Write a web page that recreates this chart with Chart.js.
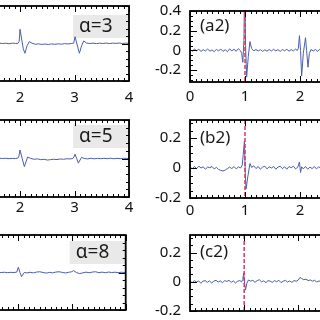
<!DOCTYPE html>
<html>
<head>
<meta charset="utf-8">
<script src="https://cdn.jsdelivr.net/npm/chart.js@4"></script>
<style>
  html, body { margin: 0; padding: 0; background: #fff; }
  #wrap { position: relative; width: 320px; height: 320px; overflow: hidden; background: #fff; }
  .panel { position: absolute; }
</style>
</head>
<body>
<div id="wrap"></div>
<script>
// x tick labels (all panels) and y tick labels (right panels)
const xTickVals = [0, 1, 2, 3, 4];
const yTicksA2 = [-0.2, 0, 0.2, 0.4];
const yTicksB2 = [-0.2, 0, 0.2];
const yTicksC2 = [-0.2, 0, 0.2];
const yTicksLeft = [-1, 0, 1];

// left column: alpha = 3
const xL3 = [1.5, 1.56, 1.62, 1.68, 1.74, 1.8, 1.86, 1.92, 1.96, 1.985,
  2.0, 2.03, 2.06, 2.09, 2.13, 2.17, 2.22, 2.28, 2.34, 2.4,
  2.46, 2.52, 2.58, 2.64, 2.7, 2.76, 2.82, 2.88, 2.94, 2.985,
  3.01, 3.05, 3.09, 3.13, 3.17, 3.22, 3.28, 3.34, 3.4, 3.46,
  3.52, 3.58, 3.64, 3.7, 3.76, 3.82, 3.88, 3.94, 4.0];
const yL3 = [0.01, -0.004, 0.012, 0.0, 0.008, -0.006, 0.01, 0.002, 0.0, 0.06,
  0.38, 0.12, -0.14, -0.26, -0.06, 0.05, 0.01, -0.02, -0.01, -0.024,
  -0.014, -0.026, -0.01, -0.022, -0.008, -0.018, -0.004, -0.012, 0.0, 0.01,
  0.18, -0.04, -0.26, -0.06, 0.07, 0.012, 0.0, 0.01, -0.004, 0.008,
  0.0, 0.012, -0.002, 0.01, 0.004, 0.012, 0.0, 0.01, 0.006];

// left column: alpha = 5
const xL5 = [1.5, 1.56, 1.62, 1.68, 1.74, 1.8, 1.86, 1.92, 1.96, 1.98,
  2.0, 2.04, 2.08, 2.14, 2.2, 2.26, 2.32, 2.38, 2.44, 2.5,
  2.56, 2.62, 2.68, 2.74, 2.8, 2.86, 2.92, 2.97, 2.99, 3.01,
  3.04, 3.07, 3.13, 3.18, 3.24, 3.3, 3.36, 3.42, 3.48, 3.54,
  3.6, 3.66, 3.72, 3.78, 3.84, 3.9, 3.96, 4.0];
const yL5 = [0.006, -0.004, 0.008, 0.0, 0.006, -0.004, 0.004, 0.0, 0.01, 0.06,
  0.22, 0.0, -0.21, 0.04, 0.0, -0.02, -0.01, -0.03, -0.02, -0.04,
  -0.03, -0.02, -0.028, -0.012, -0.02, -0.006, -0.012, 0.0, 0.04, 0.11,
  0.0, -0.12, 0.03, 0.0, -0.01, 0.006, -0.008, 0.004, -0.006, 0.006,
  -0.004, 0.008, -0.006, 0.004, -0.004, 0.006, 0.0, 0.004];

// left column: alpha = 8
const xL8 = [1.5, 1.56, 1.62, 1.68, 1.74, 1.8, 1.86, 1.92, 1.97, 2.0,
  2.03, 2.06, 2.11, 2.16, 2.22, 2.28, 2.34, 2.4, 2.46, 2.52,
  2.58, 2.64, 2.7, 2.76, 2.82, 2.88, 2.94, 2.99, 3.03, 3.08,
  3.14, 3.2, 3.26, 3.32, 3.38, 3.44, 3.5, 3.56, 3.62, 3.68,
  3.74, 3.8, 3.86, 3.92, 4.0];
const yL8 = [0.004, -0.004, 0.006, 0.0, 0.006, -0.004, 0.004, 0.0, 0.01, 0.14,
  0.0, -0.11, 0.0, -0.012, 0.006, -0.01, 0.012, 0.02, 0.0, -0.016,
  0.004, -0.01, 0.012, 0.02, 0.002, -0.012, 0.006, 0.02, 0.05, 0.0,
  -0.03, -0.01, 0.01, -0.006, 0.012, 0.02, -0.004, 0.01, -0.006, 0.012,
  0.0, 0.008, -0.004, 0.006, 0.0];

// right column: (a2)
const xA2 = [0, 0.04, 0.08, 0.12, 0.16, 0.2, 0.24, 0.28, 0.32, 0.36,
  0.4, 0.44, 0.48, 0.52, 0.56, 0.6, 0.64, 0.68, 0.72, 0.76,
  0.8, 0.84, 0.88, 0.92, 0.94, 0.96, 0.98, 0.995, 1.01, 1.03,
  1.06, 1.09, 1.12, 1.16, 1.2, 1.24, 1.28, 1.32, 1.36, 1.4,
  1.44, 1.48, 1.52, 1.56, 1.6, 1.64, 1.68, 1.72, 1.76, 1.8,
  1.84, 1.88, 1.92, 1.95, 1.97, 1.99, 2.01, 2.03, 2.06, 2.1,
  2.12, 2.145, 2.17, 2.2, 2.24, 2.28, 2.32, 2.36, 2.4, 2.44];
const yA2 = [0.01, -0.008, 0.014, -0.004, 0.012, -0.01, 0.008, -0.006, 0.015, -0.008,
  0.006, -0.012, 0.01, -0.004, 0.014, -0.01, 0.008, -0.012, 0.016, -0.004,
  0.012, -0.008, 0.018, -0.004, -0.03, -0.12, 0.1, 0.7, 0.05, -0.27,
  -0.06, 0.09, 0.02, -0.004, 0.01, -0.006, 0.008, -0.01, 0.006, -0.008,
  0.01, -0.006, 0.012, -0.004, 0.008, -0.01, 0.01, -0.004, 0.012, -0.008,
  0.008, -0.004, 0.014, 0.0, 0.02, 0.15, 0.0, -0.26, -0.03, 0.13,
  0.0, -0.17, -0.03, 0.01, -0.006, 0.01, -0.008, 0.012, -0.006, 0.008];

// right column: (b2)
const xB2 = [0, 0.04, 0.08, 0.12, 0.16, 0.2, 0.24, 0.28, 0.32, 0.36,
  0.4, 0.44, 0.48, 0.52, 0.56, 0.6, 0.64, 0.68, 0.72, 0.76,
  0.8, 0.84, 0.88, 0.92, 0.95, 0.97, 0.99, 1.005, 1.02, 1.05,
  1.09, 1.12, 1.16, 1.2, 1.24, 1.28, 1.32, 1.36, 1.4, 1.44,
  1.48, 1.52, 1.56, 1.6, 1.64, 1.68, 1.72, 1.76, 1.8, 1.84,
  1.88, 1.92, 1.96, 1.99, 2.01, 2.03, 2.06, 2.1, 2.14, 2.18,
  2.22, 2.26, 2.3, 2.34, 2.38, 2.42, 2.46];
const yB2 = [0.008, -0.006, 0.01, -0.004, 0.012, 0.0, 0.008, -0.008, 0.006, 0.002,
  0.01, -0.006, 0.004, -0.01, -0.016, -0.02, -0.014, -0.004, 0.006, -0.004,
  0.01, -0.006, 0.008, 0.0, 0.02, 0.1, 0.18, -0.04, -0.14, -0.06,
  0.03, 0.004, 0.014, -0.004, 0.01, -0.008, 0.006, 0.012, -0.006, 0.008,
  0.0, 0.01, -0.008, 0.006, 0.012, -0.004, 0.008, -0.008, 0.01, 0.002,
  0.012, -0.006, 0.006, 0.04, -0.03, 0.008, -0.006, 0.01, -0.008, 0.006,
  -0.004, 0.01, -0.006, 0.008, -0.002, 0.01, -0.006];

// right column: (c2)
const xC2 = [0, 0.04, 0.08, 0.12, 0.16, 0.2, 0.24, 0.28, 0.32, 0.36,
  0.4, 0.44, 0.48, 0.52, 0.56, 0.6, 0.64, 0.68, 0.72, 0.76,
  0.8, 0.84, 0.88, 0.92, 0.95, 0.975, 0.99, 1.01, 1.025, 1.05,
  1.08, 1.12, 1.16, 1.2, 1.24, 1.28, 1.32, 1.36, 1.4, 1.44,
  1.48, 1.52, 1.56, 1.6, 1.64, 1.68, 1.72, 1.76, 1.8, 1.84,
  1.88, 1.92, 1.96, 2.0, 2.03, 2.06, 2.1, 2.14, 2.18, 2.22,
  2.26, 2.3, 2.34, 2.38, 2.42, 2.46];
const yC2 = [0.004, -0.006, 0.008, -0.002, 0.006, -0.01, 0.004, 0.008, -0.004, 0.006,
  -0.008, 0.004, 0.01, -0.002, 0.006, -0.006, 0.008, 0.002, 0.01, -0.004,
  0.006, -0.008, 0.004, 0.008, 0.0, 0.015, 0.06, -0.02, -0.055, -0.01,
  0.012, 0.004, 0.01, -0.004, 0.008, 0.014, 0.0, 0.006, -0.006, 0.008,
  0.004, -0.004, 0.008, 0.0, 0.01, -0.006, 0.004, 0.01, -0.002, 0.006,
  -0.004, 0.008, 0.004, 0.012, 0.03, 0.022, 0.014, 0.018, 0.008, 0.012,
  0.004, 0.01, -0.002, 0.006, 0.0, 0.008];

const markerX = 1;

const FONT = "'Noto Sans', 'DejaVu Sans', sans-serif";
const TRACE = '#4b5eaa';

const panels = [
  { left: -129, top: -19, w: 273, h: 130, padTop: 25, xs: xL3, ys: yL3, yMin: -1, yMax: 1,
    yTicks: yTicksLeft, yMinor: 0.2, yMajor: 1, yLabels: false, tag: 'α=3', box: true, boxTop: 9, xPad: 8 },
  { left: -129, top: 95, w: 273, h: 132, padTop: 25, xs: xL5, ys: yL5, yMin: -1, yMax: 1,
    yTicks: yTicksLeft, yMinor: 0.2, yMajor: 1, yLabels: false, tag: 'α=5', box: true, boxTop: 5, xPad: 2 },
  { left: -129, top: 210, w: 273, h: 130, padTop: 25, xs: xL8, ys: yL8, yMin: -1, yMax: 1,
    yTicks: yTicksLeft, yMinor: 0.2, yMajor: 1, yLabels: false, tag: 'α=8', box: true, boxTop: 6, xPad: 14 },
  { left: 150, top: -14, w: 275, h: 126, padTop: 25, xs: xA2, ys: yA2, yMin: -0.32, yMax: 0.4,
    yTicks: yTicksA2, yMinor: 0.05, yMajor: 0.2, yLabels: true, tag: '(a2)', tagY: 0.25, marker: true, xPad: 6 },
  { left: 150, top: 95, w: 275, h: 133, padTop: 25, xs: xB2, ys: yB2, yMin: -0.2, yMax: 0.32,
    yTicks: yTicksB2, yMinor: 0.05, yMajor: 0.2, yLabels: true, tag: '(b2)', tagY: 0.2, marker: true, xPad: 4 },
  { left: 150, top: 210, w: 275, h: 131, padTop: 25, xs: xC2, ys: yC2, yMin: -0.2, yMax: 0.32,
    yTicks: yTicksC2, yMinor: 0.05, yMajor: 0.2, yLabels: true, tag: '(c2)', tagY: 0.2, marker: true, xPad: 14 }
];

function framePlugin(cfg) {
  return {
    id: 'frame',
    beforeDatasetsDraw(chart) {
      const { ctx, chartArea: a } = chart;
      if (!cfg.box) return;
      ctx.save();
      ctx.fillStyle = '#e9e9e9';
      ctx.fillRect(a.right - 56, a.top + cfg.boxTop, 56, 23);
      ctx.fillStyle = '#1a1a1a';
      ctx.font = '19px ' + FONT;
      ctx.textBaseline = 'middle';
      ctx.textAlign = 'left';
      ctx.fillText(cfg.tag, a.right - 50, a.top + cfg.boxTop + 12);
      ctx.restore();
    },
    afterDatasetsDraw(chart) {
      const { ctx, chartArea: a, scales: { x, y } } = chart;
      ctx.save();
      if (cfg.marker) {
        const px = x.getPixelForValue(markerX);
        ctx.strokeStyle = '#d2386a';
        ctx.lineWidth = 1.5;
        ctx.setLineDash([4, 2]);
        ctx.beginPath();
        ctx.moveTo(px, a.top);
        ctx.lineTo(px, a.bottom);
        ctx.stroke();
        ctx.setLineDash([]);
      }
      // inward ticks on every side
      ctx.strokeStyle = '#000';
      ctx.lineWidth = 1;
      ctx.beginPath();
      for (let i = 0; i <= 40; i++) {
        const px = Math.round(x.getPixelForValue(i / 10)) + 0.5;
        const len = i % 10 === 0 ? 6 : 3;
        ctx.moveTo(px, a.bottom); ctx.lineTo(px, a.bottom - len);
        ctx.moveTo(px, a.top); ctx.lineTo(px, a.top + len);
      }
      const k0 = Math.ceil(cfg.yMin / cfg.yMinor - 1e-6);
      const k1 = Math.floor(cfg.yMax / cfg.yMinor + 1e-6);
      for (let k = k0; k <= k1; k++) {
        const v = k * cfg.yMinor;
        const r = v / cfg.yMajor;
        const major = Math.abs(r - Math.round(r)) < 1e-6;
        const py = Math.round(y.getPixelForValue(v)) + 0.5;
        const len = major ? 7 : 3;
        ctx.moveTo(a.left, py); ctx.lineTo(a.left + len, py);
        ctx.moveTo(a.right, py); ctx.lineTo(a.right - len, py);
      }
      ctx.stroke();
      ctx.lineWidth = 1.8;
      ctx.strokeRect(a.left, a.top, a.right - a.left, a.bottom - a.top);
      if (!cfg.box) {
        ctx.fillStyle = '#1a1a1a';
        ctx.font = '17px ' + FONT;
        ctx.textBaseline = 'middle';
        ctx.textAlign = 'left';
        ctx.fillText(cfg.tag, a.left + 10, y.getPixelForValue(cfg.tagY));
      }
      ctx.restore();
    }
  };
}

const wrap = document.getElementById('wrap');

panels.forEach((cfg) => {
  const div = document.createElement('div');
  div.className = 'panel';
  div.style.left = cfg.left + 'px';
  div.style.top = cfg.top + 'px';
  div.style.width = cfg.w + 'px';
  div.style.height = cfg.h + 'px';
  const canvas = document.createElement('canvas');
  div.appendChild(canvas);
  wrap.appendChild(div);

  new Chart(canvas, {
    type: 'scatter',
    data: {
      datasets: [{
        data: cfg.xs.map((x, i) => ({ x: x, y: cfg.ys[i] })),
        showLine: true,
        borderColor: TRACE,
        borderWidth: 1,
        pointRadius: 0,
        tension: 0
      }]
    },
    options: {
      responsive: true,
      maintainAspectRatio: false,
      animation: false,
      events: [],
      layout: { padding: { top: cfg.padTop, right: 15, left: 0, bottom: 0 } },
      plugins: { legend: { display: false }, tooltip: { enabled: false } },
      scales: {
        x: {
          type: 'linear',
          min: 0,
          max: 4,
          grid: { display: false, drawTicks: false },
          border: { display: false },
          afterBuildTicks: (s) => { s.ticks = xTickVals.map((v) => ({ value: v })); },
          afterFit: (s) => { s.height = 30; },
          ticks: { padding: cfg.xPad, color: '#111', maxRotation: 0, autoSkip: false,
                   font: { family: FONT, size: 15 } }
        },
        y: {
          type: 'linear',
          min: cfg.yMin,
          max: cfg.yMax,
          grid: { display: false, drawTicks: false },
          border: { display: false },
          afterBuildTicks: (s) => { s.ticks = cfg.yTicks.map((v) => ({ value: v })); },
          afterFit: (s) => { s.width = 40; },
          ticks: { display: cfg.yLabels, padding: 9, color: '#111',
                   font: { family: FONT, size: 15 },
                   callback: (v) => String(v) }
        }
      }
    },
    plugins: [framePlugin(cfg)]
  });
});
</script>
</body>
</html>
